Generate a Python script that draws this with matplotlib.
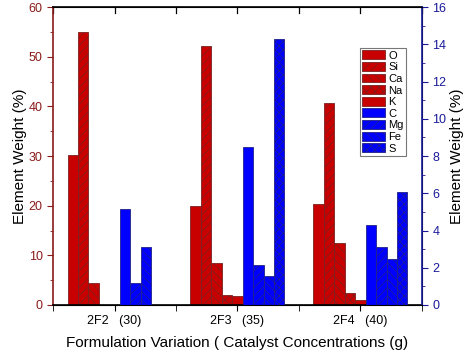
import matplotlib.pyplot as plt
import numpy as np

plt.rcParams['font.family'] = ['Liberation Sans', 'DejaVu Sans']
plt.rcParams['hatch.linewidth'] = 0.5

# data
groups = ['2F2   (30)', '2F3   (35)', '2F4   (40)']
red_names = ['O', 'Si', 'Ca', 'Na', 'K']
blue_names = ['C', 'Mg', 'Fe', 'S']
# left axis (%)
red_vals = [
    [30.2, 55.0, 4.5, 0.0, 0.0],
    [20.0, 52.2, 8.5, 2.1, 1.9],
    [20.3, 40.7, 12.4, 2.5, 1.0],
]
# right axis (%)
blue_vals = [
    [5.16, 1.16, 3.13, 0.0],
    [8.48, 2.15, 1.56, 14.28],
    [4.28, 3.13, 2.45, 6.08],
]
red_hatch = ['', '////', '\\\\\\\\', 'xxxx', '']
blue_hatch = ['', '////', '\\\\\\\\', 'xxxx']

red_c = '#c80000'
blue_c = '#0000ff'
left_c = '#8b1a1a'
right_c = '#1a1a9a'

fig = plt.figure(figsize=(4.74, 3.53), dpi=100)
ax = fig.add_axes([0.112, 0.136, 0.778, 0.844])
ax2 = ax.twinx()

centers = np.array([1, 3, 5])
w = 0.17
n = 9
handles = []
for i, name in enumerate(red_names):
    pos = centers + (i - (n - 1) / 2) * w
    h = ax.bar(pos, [r[i] for r in red_vals], w, color=red_c, edgecolor='#7a2020',
               linewidth=0.6, hatch=red_hatch[i], label=name)
    handles.append(h)
for j, name in enumerate(blue_names):
    pos = centers + (j + 5 - (n - 1) / 2) * w
    h = ax2.bar(pos, [b[j] for b in blue_vals], w, color=blue_c, edgecolor='#20208a',
                linewidth=0.6, hatch=blue_hatch[j], label=name)
    handles.append(h)

ax.set_xlim(0, 6)
ax.set_ylim(0, 60)
ax2.set_ylim(0, 16)
ax.set_xticks(centers)
ax.set_xticklabels(groups, fontsize=9)
ax.set_xticks([0, 2, 4, 6], minor=True)
ax.tick_params(axis='x', which='both', direction='out', length=4, top=False)
ax.set_yticks(np.arange(0, 61, 10))
ax.set_yticks(np.arange(5, 60, 10), minor=True)
ax.tick_params(axis='y', which='major', colors=left_c, length=4, labelsize=9)
ax.tick_params(axis='y', which='minor', colors=left_c, length=2.5)
ax2.set_yticks(np.arange(0, 17, 2))
ax2.set_yticks(np.arange(1, 16, 2), minor=True)
ax2.tick_params(axis='y', which='major', colors=right_c, length=4, labelsize=9)
ax2.tick_params(axis='y', which='minor', colors=right_c, length=2.5)

# top mirror ticks pointing inward
for xt in range(0, 7):
    ax.plot([xt, xt], [60, 58.9], color='black', lw=0.9, clip_on=False)

ax.spines['left'].set_color(left_c)
ax.spines['left'].set_linewidth(1.2)
ax2.spines['right'].set_color(right_c)
ax2.spines['right'].set_linewidth(1.2)
ax2.spines['left'].set_visible(False)
for s in ['top', 'bottom']:
    ax.spines[s].set_linewidth(1.2)

ax.set_ylabel('Element Weight (%)', fontsize=11, labelpad=1)
ax2.set_ylabel('Element Weight (%)', fontsize=11, labelpad=3)
ax.set_xlabel('Formulation Variation ( Catalyst Concentrations (g)', fontsize=11, labelpad=6)

leg = ax2.legend(handles=handles, loc='upper left', bbox_to_anchor=(0.833, 0.862),
                 fontsize=8, frameon=True, fancybox=False, edgecolor='#555555',
                 handlelength=2.0, handleheight=0.85, handletextpad=0.3,
                 labelspacing=0.12, borderpad=0.2, borderaxespad=0)
leg.get_frame().set_linewidth(0.8)

fig.savefig('out.png', dpi=100)
